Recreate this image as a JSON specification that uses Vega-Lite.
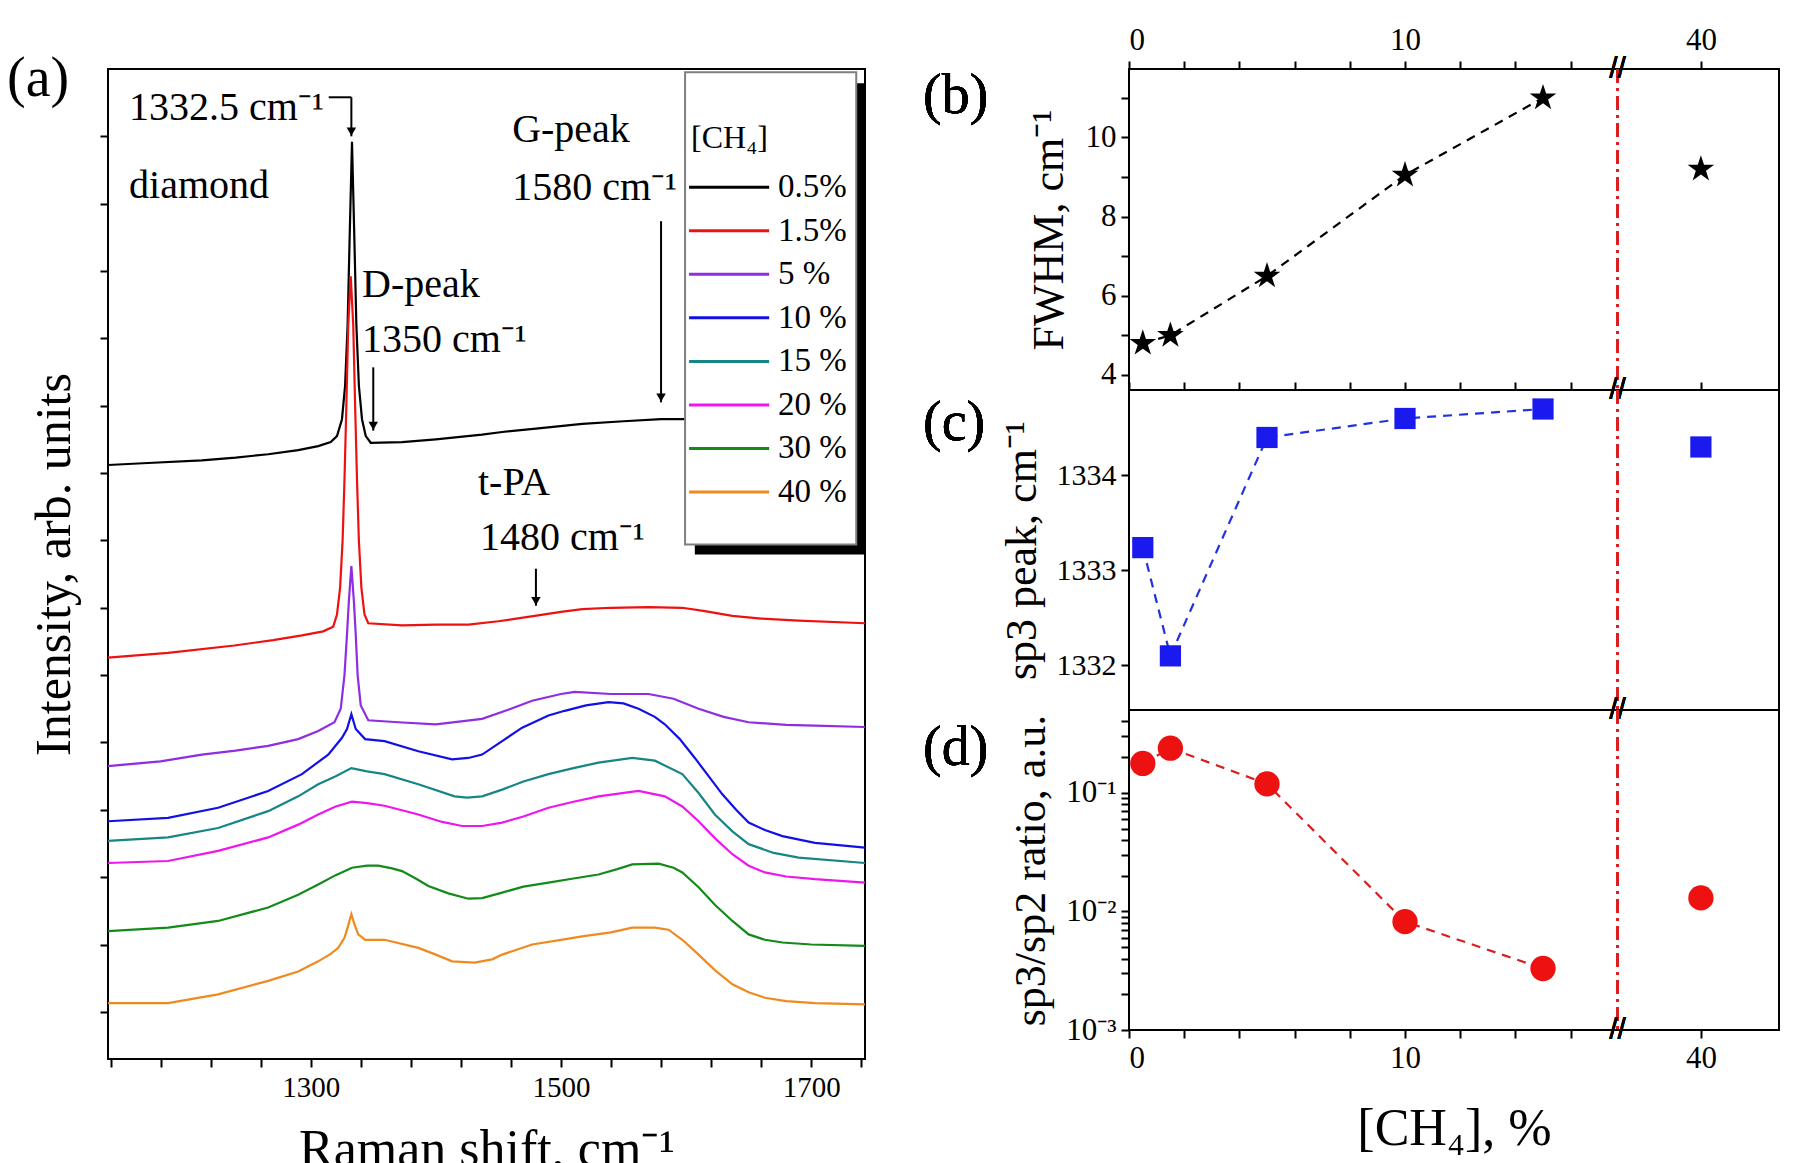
{
  "$schema": "https://vega.github.io/schema/vega-lite/v6.json",
  "padding": {"left": 6, "top": 23, "right": 5, "bottom": 5},
  "background": "white",
  "spacing": 51,
  "config": {
    "font": "Liberation Serif",
    "view": {"stroke": "black", "strokeWidth": 2},
    "axis": {
      "labelFont": "Liberation Serif",
      "titleFont": "Liberation Serif",
      "titleFontWeight": "normal",
      "labelColor": "black",
      "titleColor": "black",
      "tickColor": "black",
      "tickWidth": 2,
      "tickSize": 8,
      "domain": false,
      "grid": false
    },
    "text": {"font": "Liberation Serif", "color": "black"}
  },
  "datasets": {
    "spectra": [
      {"shift": 1138, "intensity": 8.12, "ch4": "0.5%"},
      {"shift": 1170, "intensity": 8.15, "ch4": "0.5%"},
      {"shift": 1213, "intensity": 8.19, "ch4": "0.5%"},
      {"shift": 1240, "intensity": 8.23, "ch4": "0.5%"},
      {"shift": 1266, "intensity": 8.28, "ch4": "0.5%"},
      {"shift": 1290, "intensity": 8.34, "ch4": "0.5%"},
      {"shift": 1306, "intensity": 8.4, "ch4": "0.5%"},
      {"shift": 1316, "intensity": 8.46, "ch4": "0.5%"},
      {"shift": 1321, "intensity": 8.55, "ch4": "0.5%"},
      {"shift": 1325, "intensity": 8.8, "ch4": "0.5%"},
      {"shift": 1327.5, "intensity": 9.3, "ch4": "0.5%"},
      {"shift": 1329.5, "intensity": 10.2, "ch4": "0.5%"},
      {"shift": 1331, "intensity": 11.4, "ch4": "0.5%"},
      {"shift": 1333, "intensity": 12.92, "ch4": "0.5%"},
      {"shift": 1335, "intensity": 11.4, "ch4": "0.5%"},
      {"shift": 1336.5, "intensity": 10.2, "ch4": "0.5%"},
      {"shift": 1338.5, "intensity": 9.3, "ch4": "0.5%"},
      {"shift": 1341, "intensity": 8.8, "ch4": "0.5%"},
      {"shift": 1344, "intensity": 8.55, "ch4": "0.5%"},
      {"shift": 1348, "intensity": 8.45, "ch4": "0.5%"},
      {"shift": 1373, "intensity": 8.46, "ch4": "0.5%"},
      {"shift": 1400, "intensity": 8.5, "ch4": "0.5%"},
      {"shift": 1437, "intensity": 8.57, "ch4": "0.5%"},
      {"shift": 1453, "intensity": 8.61, "ch4": "0.5%"},
      {"shift": 1480, "intensity": 8.66, "ch4": "0.5%"},
      {"shift": 1517, "intensity": 8.73, "ch4": "0.5%"},
      {"shift": 1550, "intensity": 8.77, "ch4": "0.5%"},
      {"shift": 1580, "intensity": 8.8, "ch4": "0.5%"},
      {"shift": 1600, "intensity": 8.8, "ch4": "0.5%"},
      {"shift": 1650, "intensity": 8.78, "ch4": "0.5%"},
      {"shift": 1700, "intensity": 8.76, "ch4": "0.5%"},
      {"shift": 1743, "intensity": 8.74, "ch4": "0.5%"},

      {"shift": 1138, "intensity": 5.26, "ch4": "1.5%"},
      {"shift": 1186, "intensity": 5.33, "ch4": "1.5%"},
      {"shift": 1239, "intensity": 5.44, "ch4": "1.5%"},
      {"shift": 1270, "intensity": 5.52, "ch4": "1.5%"},
      {"shift": 1293, "intensity": 5.59, "ch4": "1.5%"},
      {"shift": 1310, "intensity": 5.65, "ch4": "1.5%"},
      {"shift": 1318, "intensity": 5.72, "ch4": "1.5%"},
      {"shift": 1321, "intensity": 5.9, "ch4": "1.5%"},
      {"shift": 1323.5, "intensity": 6.3, "ch4": "1.5%"},
      {"shift": 1325.5, "intensity": 7.0, "ch4": "1.5%"},
      {"shift": 1327, "intensity": 7.9, "ch4": "1.5%"},
      {"shift": 1328.5, "intensity": 9.0, "ch4": "1.5%"},
      {"shift": 1330, "intensity": 10.2, "ch4": "1.5%"},
      {"shift": 1332, "intensity": 10.92, "ch4": "1.5%"},
      {"shift": 1334, "intensity": 10.2, "ch4": "1.5%"},
      {"shift": 1335.5, "intensity": 9.0, "ch4": "1.5%"},
      {"shift": 1337, "intensity": 7.9, "ch4": "1.5%"},
      {"shift": 1338.5, "intensity": 7.0, "ch4": "1.5%"},
      {"shift": 1340.5, "intensity": 6.3, "ch4": "1.5%"},
      {"shift": 1343, "intensity": 5.9, "ch4": "1.5%"},
      {"shift": 1346, "intensity": 5.77, "ch4": "1.5%"},
      {"shift": 1373, "intensity": 5.74, "ch4": "1.5%"},
      {"shift": 1400, "intensity": 5.75, "ch4": "1.5%"},
      {"shift": 1426, "intensity": 5.75, "ch4": "1.5%"},
      {"shift": 1450, "intensity": 5.8, "ch4": "1.5%"},
      {"shift": 1479, "intensity": 5.88, "ch4": "1.5%"},
      {"shift": 1500, "intensity": 5.94, "ch4": "1.5%"},
      {"shift": 1517, "intensity": 5.98, "ch4": "1.5%"},
      {"shift": 1540, "intensity": 6.0, "ch4": "1.5%"},
      {"shift": 1570, "intensity": 6.01, "ch4": "1.5%"},
      {"shift": 1597, "intensity": 6.0, "ch4": "1.5%"},
      {"shift": 1615, "intensity": 5.95, "ch4": "1.5%"},
      {"shift": 1637, "intensity": 5.88, "ch4": "1.5%"},
      {"shift": 1660, "intensity": 5.84, "ch4": "1.5%"},
      {"shift": 1690, "intensity": 5.81, "ch4": "1.5%"},
      {"shift": 1743, "intensity": 5.77, "ch4": "1.5%"},

      {"shift": 1138, "intensity": 3.65, "ch4": "5 %"},
      {"shift": 1180, "intensity": 3.72, "ch4": "5 %"},
      {"shift": 1213, "intensity": 3.82, "ch4": "5 %"},
      {"shift": 1240, "intensity": 3.88, "ch4": "5 %"},
      {"shift": 1266, "intensity": 3.95, "ch4": "5 %"},
      {"shift": 1290, "intensity": 4.05, "ch4": "5 %"},
      {"shift": 1306, "intensity": 4.17, "ch4": "5 %"},
      {"shift": 1319, "intensity": 4.3, "ch4": "5 %"},
      {"shift": 1324, "intensity": 4.5, "ch4": "5 %"},
      {"shift": 1327, "intensity": 5.0, "ch4": "5 %"},
      {"shift": 1329, "intensity": 5.6, "ch4": "5 %"},
      {"shift": 1330.5, "intensity": 6.1, "ch4": "5 %"},
      {"shift": 1332.5, "intensity": 6.62, "ch4": "5 %"},
      {"shift": 1334.5, "intensity": 6.1, "ch4": "5 %"},
      {"shift": 1336, "intensity": 5.6, "ch4": "5 %"},
      {"shift": 1337.5, "intensity": 5.0, "ch4": "5 %"},
      {"shift": 1340, "intensity": 4.55, "ch4": "5 %"},
      {"shift": 1346, "intensity": 4.33, "ch4": "5 %"},
      {"shift": 1370, "intensity": 4.3, "ch4": "5 %"},
      {"shift": 1400, "intensity": 4.27, "ch4": "5 %"},
      {"shift": 1437, "intensity": 4.35, "ch4": "5 %"},
      {"shift": 1460, "intensity": 4.5, "ch4": "5 %"},
      {"shift": 1477, "intensity": 4.62, "ch4": "5 %"},
      {"shift": 1500, "intensity": 4.72, "ch4": "5 %"},
      {"shift": 1511, "intensity": 4.75, "ch4": "5 %"},
      {"shift": 1540, "intensity": 4.72, "ch4": "5 %"},
      {"shift": 1570, "intensity": 4.72, "ch4": "5 %"},
      {"shift": 1590, "intensity": 4.65, "ch4": "5 %"},
      {"shift": 1610, "intensity": 4.5, "ch4": "5 %"},
      {"shift": 1630, "intensity": 4.38, "ch4": "5 %"},
      {"shift": 1650, "intensity": 4.3, "ch4": "5 %"},
      {"shift": 1680, "intensity": 4.26, "ch4": "5 %"},
      {"shift": 1703, "intensity": 4.25, "ch4": "5 %"},
      {"shift": 1743, "intensity": 4.23, "ch4": "5 %"},

      {"shift": 1138, "intensity": 2.83, "ch4": "10 %"},
      {"shift": 1186, "intensity": 2.88, "ch4": "10 %"},
      {"shift": 1226, "intensity": 3.03, "ch4": "10 %"},
      {"shift": 1266, "intensity": 3.28, "ch4": "10 %"},
      {"shift": 1293, "intensity": 3.53, "ch4": "10 %"},
      {"shift": 1314, "intensity": 3.82, "ch4": "10 %"},
      {"shift": 1325, "intensity": 4.07, "ch4": "10 %"},
      {"shift": 1329, "intensity": 4.2, "ch4": "10 %"},
      {"shift": 1332.5, "intensity": 4.42, "ch4": "10 %"},
      {"shift": 1336, "intensity": 4.2, "ch4": "10 %"},
      {"shift": 1343.5, "intensity": 4.05, "ch4": "10 %"},
      {"shift": 1359, "intensity": 4.02, "ch4": "10 %"},
      {"shift": 1386, "intensity": 3.87, "ch4": "10 %"},
      {"shift": 1413, "intensity": 3.75, "ch4": "10 %"},
      {"shift": 1426, "intensity": 3.77, "ch4": "10 %"},
      {"shift": 1437, "intensity": 3.82, "ch4": "10 %"},
      {"shift": 1453, "intensity": 4.02, "ch4": "10 %"},
      {"shift": 1469, "intensity": 4.22, "ch4": "10 %"},
      {"shift": 1490, "intensity": 4.4, "ch4": "10 %"},
      {"shift": 1503, "intensity": 4.47, "ch4": "10 %"},
      {"shift": 1520, "intensity": 4.55, "ch4": "10 %"},
      {"shift": 1538, "intensity": 4.6, "ch4": "10 %"},
      {"shift": 1550, "intensity": 4.58, "ch4": "10 %"},
      {"shift": 1562, "intensity": 4.5, "ch4": "10 %"},
      {"shift": 1575, "intensity": 4.38, "ch4": "10 %"},
      {"shift": 1583, "intensity": 4.27, "ch4": "10 %"},
      {"shift": 1595, "intensity": 4.05, "ch4": "10 %"},
      {"shift": 1607, "intensity": 3.77, "ch4": "10 %"},
      {"shift": 1618, "intensity": 3.5, "ch4": "10 %"},
      {"shift": 1629, "intensity": 3.23, "ch4": "10 %"},
      {"shift": 1640, "intensity": 3.0, "ch4": "10 %"},
      {"shift": 1650, "intensity": 2.81, "ch4": "10 %"},
      {"shift": 1663, "intensity": 2.7, "ch4": "10 %"},
      {"shift": 1677, "intensity": 2.61, "ch4": "10 %"},
      {"shift": 1703, "intensity": 2.51, "ch4": "10 %"},
      {"shift": 1743, "intensity": 2.44, "ch4": "10 %"},

      {"shift": 1138, "intensity": 2.54, "ch4": "15 %"},
      {"shift": 1186, "intensity": 2.59, "ch4": "15 %"},
      {"shift": 1226, "intensity": 2.73, "ch4": "15 %"},
      {"shift": 1266, "intensity": 2.98, "ch4": "15 %"},
      {"shift": 1290, "intensity": 3.2, "ch4": "15 %"},
      {"shift": 1306, "intensity": 3.38, "ch4": "15 %"},
      {"shift": 1320, "intensity": 3.5, "ch4": "15 %"},
      {"shift": 1332.5, "intensity": 3.62, "ch4": "15 %"},
      {"shift": 1345, "intensity": 3.57, "ch4": "15 %"},
      {"shift": 1359, "intensity": 3.53, "ch4": "15 %"},
      {"shift": 1386, "intensity": 3.38, "ch4": "15 %"},
      {"shift": 1415, "intensity": 3.2, "ch4": "15 %"},
      {"shift": 1425, "intensity": 3.18, "ch4": "15 %"},
      {"shift": 1437, "intensity": 3.2, "ch4": "15 %"},
      {"shift": 1453, "intensity": 3.3, "ch4": "15 %"},
      {"shift": 1470, "intensity": 3.42, "ch4": "15 %"},
      {"shift": 1490, "intensity": 3.53, "ch4": "15 %"},
      {"shift": 1510, "intensity": 3.62, "ch4": "15 %"},
      {"shift": 1530, "intensity": 3.7, "ch4": "15 %"},
      {"shift": 1557, "intensity": 3.77, "ch4": "15 %"},
      {"shift": 1575, "intensity": 3.73, "ch4": "15 %"},
      {"shift": 1597, "intensity": 3.53, "ch4": "15 %"},
      {"shift": 1610, "intensity": 3.25, "ch4": "15 %"},
      {"shift": 1623, "intensity": 2.93, "ch4": "15 %"},
      {"shift": 1637, "intensity": 2.68, "ch4": "15 %"},
      {"shift": 1650, "intensity": 2.49, "ch4": "15 %"},
      {"shift": 1670, "intensity": 2.36, "ch4": "15 %"},
      {"shift": 1690, "intensity": 2.29, "ch4": "15 %"},
      {"shift": 1743, "intensity": 2.21, "ch4": "15 %"},

      {"shift": 1138, "intensity": 2.21, "ch4": "20 %"},
      {"shift": 1186, "intensity": 2.24, "ch4": "20 %"},
      {"shift": 1226, "intensity": 2.39, "ch4": "20 %"},
      {"shift": 1266, "intensity": 2.59, "ch4": "20 %"},
      {"shift": 1290, "intensity": 2.78, "ch4": "20 %"},
      {"shift": 1306, "intensity": 2.93, "ch4": "20 %"},
      {"shift": 1320, "intensity": 3.05, "ch4": "20 %"},
      {"shift": 1333, "intensity": 3.12, "ch4": "20 %"},
      {"shift": 1345, "intensity": 3.1, "ch4": "20 %"},
      {"shift": 1359, "intensity": 3.06, "ch4": "20 %"},
      {"shift": 1386, "intensity": 2.93, "ch4": "20 %"},
      {"shift": 1405, "intensity": 2.82, "ch4": "20 %"},
      {"shift": 1421, "intensity": 2.76, "ch4": "20 %"},
      {"shift": 1437, "intensity": 2.76, "ch4": "20 %"},
      {"shift": 1453, "intensity": 2.81, "ch4": "20 %"},
      {"shift": 1470, "intensity": 2.9, "ch4": "20 %"},
      {"shift": 1490, "intensity": 3.03, "ch4": "20 %"},
      {"shift": 1510, "intensity": 3.12, "ch4": "20 %"},
      {"shift": 1530, "intensity": 3.2, "ch4": "20 %"},
      {"shift": 1562, "intensity": 3.28, "ch4": "20 %"},
      {"shift": 1583, "intensity": 3.2, "ch4": "20 %"},
      {"shift": 1597, "intensity": 3.05, "ch4": "20 %"},
      {"shift": 1610, "intensity": 2.83, "ch4": "20 %"},
      {"shift": 1623, "intensity": 2.58, "ch4": "20 %"},
      {"shift": 1637, "intensity": 2.34, "ch4": "20 %"},
      {"shift": 1650, "intensity": 2.17, "ch4": "20 %"},
      {"shift": 1663, "intensity": 2.07, "ch4": "20 %"},
      {"shift": 1680, "intensity": 2.01, "ch4": "20 %"},
      {"shift": 1703, "intensity": 1.97, "ch4": "20 %"},
      {"shift": 1743, "intensity": 1.92, "ch4": "20 %"},

      {"shift": 1138, "intensity": 1.2, "ch4": "30 %"},
      {"shift": 1186, "intensity": 1.25, "ch4": "30 %"},
      {"shift": 1226, "intensity": 1.35, "ch4": "30 %"},
      {"shift": 1266, "intensity": 1.55, "ch4": "30 %"},
      {"shift": 1290, "intensity": 1.74, "ch4": "30 %"},
      {"shift": 1306, "intensity": 1.89, "ch4": "30 %"},
      {"shift": 1320, "intensity": 2.03, "ch4": "30 %"},
      {"shift": 1333, "intensity": 2.14, "ch4": "30 %"},
      {"shift": 1345, "intensity": 2.17, "ch4": "30 %"},
      {"shift": 1354, "intensity": 2.17, "ch4": "30 %"},
      {"shift": 1365, "intensity": 2.13, "ch4": "30 %"},
      {"shift": 1373, "intensity": 2.09, "ch4": "30 %"},
      {"shift": 1385, "intensity": 1.97, "ch4": "30 %"},
      {"shift": 1394, "intensity": 1.87, "ch4": "30 %"},
      {"shift": 1410, "intensity": 1.76, "ch4": "30 %"},
      {"shift": 1426, "intensity": 1.68, "ch4": "30 %"},
      {"shift": 1437, "intensity": 1.69, "ch4": "30 %"},
      {"shift": 1453, "intensity": 1.77, "ch4": "30 %"},
      {"shift": 1470, "intensity": 1.86, "ch4": "30 %"},
      {"shift": 1490, "intensity": 1.92, "ch4": "30 %"},
      {"shift": 1510, "intensity": 1.98, "ch4": "30 %"},
      {"shift": 1530, "intensity": 2.04, "ch4": "30 %"},
      {"shift": 1545, "intensity": 2.12, "ch4": "30 %"},
      {"shift": 1557, "intensity": 2.19, "ch4": "30 %"},
      {"shift": 1578, "intensity": 2.2, "ch4": "30 %"},
      {"shift": 1590, "intensity": 2.14, "ch4": "30 %"},
      {"shift": 1597, "intensity": 2.07, "ch4": "30 %"},
      {"shift": 1610, "intensity": 1.85, "ch4": "30 %"},
      {"shift": 1623, "intensity": 1.59, "ch4": "30 %"},
      {"shift": 1637, "intensity": 1.35, "ch4": "30 %"},
      {"shift": 1650, "intensity": 1.15, "ch4": "30 %"},
      {"shift": 1663, "intensity": 1.07, "ch4": "30 %"},
      {"shift": 1677, "intensity": 1.03, "ch4": "30 %"},
      {"shift": 1700, "intensity": 1.0, "ch4": "30 %"},
      {"shift": 1743, "intensity": 0.98, "ch4": "30 %"},

      {"shift": 1138, "intensity": 0.13, "ch4": "40 %"},
      {"shift": 1186, "intensity": 0.13, "ch4": "40 %"},
      {"shift": 1226, "intensity": 0.26, "ch4": "40 %"},
      {"shift": 1266, "intensity": 0.46, "ch4": "40 %"},
      {"shift": 1290, "intensity": 0.6, "ch4": "40 %"},
      {"shift": 1306, "intensity": 0.75, "ch4": "40 %"},
      {"shift": 1316, "intensity": 0.86, "ch4": "40 %"},
      {"shift": 1322, "intensity": 0.95, "ch4": "40 %"},
      {"shift": 1327, "intensity": 1.1, "ch4": "40 %"},
      {"shift": 1330, "intensity": 1.28, "ch4": "40 %"},
      {"shift": 1332.5, "intensity": 1.45, "ch4": "40 %"},
      {"shift": 1335, "intensity": 1.3, "ch4": "40 %"},
      {"shift": 1338, "intensity": 1.15, "ch4": "40 %"},
      {"shift": 1343.5, "intensity": 1.07, "ch4": "40 %"},
      {"shift": 1359, "intensity": 1.07, "ch4": "40 %"},
      {"shift": 1386, "intensity": 0.95, "ch4": "40 %"},
      {"shift": 1400, "intensity": 0.85, "ch4": "40 %"},
      {"shift": 1413, "intensity": 0.75, "ch4": "40 %"},
      {"shift": 1431, "intensity": 0.73, "ch4": "40 %"},
      {"shift": 1445, "intensity": 0.78, "ch4": "40 %"},
      {"shift": 1453, "intensity": 0.85, "ch4": "40 %"},
      {"shift": 1477, "intensity": 1.0, "ch4": "40 %"},
      {"shift": 1500, "intensity": 1.07, "ch4": "40 %"},
      {"shift": 1517, "intensity": 1.12, "ch4": "40 %"},
      {"shift": 1540, "intensity": 1.18, "ch4": "40 %"},
      {"shift": 1557, "intensity": 1.25, "ch4": "40 %"},
      {"shift": 1575, "intensity": 1.25, "ch4": "40 %"},
      {"shift": 1586, "intensity": 1.22, "ch4": "40 %"},
      {"shift": 1597, "intensity": 1.07, "ch4": "40 %"},
      {"shift": 1610, "intensity": 0.85, "ch4": "40 %"},
      {"shift": 1623, "intensity": 0.62, "ch4": "40 %"},
      {"shift": 1637, "intensity": 0.41, "ch4": "40 %"},
      {"shift": 1650, "intensity": 0.29, "ch4": "40 %"},
      {"shift": 1663, "intensity": 0.21, "ch4": "40 %"},
      {"shift": 1680, "intensity": 0.16, "ch4": "40 %"},
      {"shift": 1703, "intensity": 0.13, "ch4": "40 %"},
      {"shift": 1743, "intensity": 0.11, "ch4": "40 %"}
    ],
    "trend": [
      {"ch4": 0.5, "fwhm": 4.8, "sp3": 1333.24, "ratio": 0.177},
      {"ch4": 1.5, "fwhm": 5.0, "sp3": 1332.1, "ratio": 0.238},
      {"ch4": 5, "fwhm": 6.5, "sp3": 1334.4, "ratio": 0.119},
      {"ch4": 10, "fwhm": 9.05, "sp3": 1334.6, "ratio": 0.0082},
      {"ch4": 15, "fwhm": 11.0, "sp3": 1334.7, "ratio": 0.0033},
      {"ch4": 40, "fwhm": 9.2, "sp3": 1334.3, "ratio": 0.013}
    ]
  },
  "hconcat": [
    {
      "width": 757,
      "height": 990,
      "layer": [
        {
          "data": {"name": "spectra"},
          "mark": {"type": "line", "strokeWidth": 2.2},
          "encoding": {
            "x": {
              "field": "shift", "type": "quantitative",
              "scale": {"domain": [1138, 1743], "nice": false, "zero": false},
              "axis": {
                "values": [1140, 1160, 1180, 1200, 1220, 1240, 1260, 1280, 1300, 1320, 1340, 1360, 1380, 1400, 1420, 1440, 1460, 1480, 1500, 1520, 1540, 1560, 1580, 1600, 1620, 1640, 1660, 1680, 1700, 1720, 1740],
                "format": "d",
                "labelExpr": "datum.value % 100 === 0 ? datum.label : ''",
                "labelFontSize": 29,
                "labelPadding": 6,
                "title": "Raman shift, cm⁻¹",
                "titleFontSize": 52,
                "titlePadding": 22
              }
            },
            "y": {
              "field": "intensity", "type": "quantitative",
              "scale": {"domain": [-0.7, 14.0], "nice": false, "zero": false},
              "axis": {
                "values": [0, 1, 2, 3, 4, 5, 6, 7, 8, 9, 10, 11, 12, 13],
                "labels": false,
                "title": "Intensity, arb. units",
                "titleFontSize": 50,
                "titlePadding": 20
              }
            },
            "color": {
              "field": "ch4", "type": "nominal",
              "scale": {
                "domain": ["0.5%", "1.5%", "5 %", "10 %", "15 %", "20 %", "30 %", "40 %"],
                "range": ["#000000", "#ee1111", "#8e2de2", "#1111e6", "#168585", "#ee16ee", "#138a1a", "#f0891e"]
              },
              "legend": null
            }
          }
        },
        {
          "data": {"values": [{}]},
          "mark": {"type": "rect", "color": "black"},
          "encoding": {
            "x": {"datum": 1607, "type": "quantitative"},
            "x2": {"datum": 1743},
            "y": {"datum": 13.79, "type": "quantitative"},
            "y2": {"datum": 6.79}
          }
        },
        {
          "data": {"values": [{}]},
          "mark": {"type": "rect", "fill": "white", "stroke": "#7f7f7f", "strokeWidth": 2},
          "encoding": {
            "x": {"datum": 1599.2, "type": "quantitative"},
            "x2": {"datum": 1736},
            "y": {"datum": 13.95, "type": "quantitative"},
            "y2": {"datum": 6.94}
          }
        },
        {
          "data": {"values": [{}]},
          "mark": {"type": "text", "text": "[CH₄]", "align": "left", "baseline": "middle", "fontSize": 32},
          "encoding": {"x": {"datum": 1604, "type": "quantitative"}, "y": {"datum": 12.97, "type": "quantitative"}}
        },
        {"data": {"values": [{}]}, "mark": {"type": "rule", "color": "#000000", "strokeWidth": 3}, "encoding": {"x": {"datum": 1602.4, "type": "quantitative"}, "x2": {"datum": 1666.4}, "y": {"datum": 12.244, "type": "quantitative"}}},
        {"data": {"values": [{}]}, "mark": {"type": "rule", "color": "#ee1111", "strokeWidth": 3}, "encoding": {"x": {"datum": 1602.4, "type": "quantitative"}, "x2": {"datum": 1666.4}, "y": {"datum": 11.597, "type": "quantitative"}}},
        {"data": {"values": [{}]}, "mark": {"type": "rule", "color": "#8e2de2", "strokeWidth": 3}, "encoding": {"x": {"datum": 1602.4, "type": "quantitative"}, "x2": {"datum": 1666.4}, "y": {"datum": 10.951, "type": "quantitative"}}},
        {"data": {"values": [{}]}, "mark": {"type": "rule", "color": "#1111e6", "strokeWidth": 3}, "encoding": {"x": {"datum": 1602.4, "type": "quantitative"}, "x2": {"datum": 1666.4}, "y": {"datum": 10.305, "type": "quantitative"}}},
        {"data": {"values": [{}]}, "mark": {"type": "rule", "color": "#168585", "strokeWidth": 3}, "encoding": {"x": {"datum": 1602.4, "type": "quantitative"}, "x2": {"datum": 1666.4}, "y": {"datum": 9.658, "type": "quantitative"}}},
        {"data": {"values": [{}]}, "mark": {"type": "rule", "color": "#ee16ee", "strokeWidth": 3}, "encoding": {"x": {"datum": 1602.4, "type": "quantitative"}, "x2": {"datum": 1666.4}, "y": {"datum": 9.012, "type": "quantitative"}}},
        {"data": {"values": [{}]}, "mark": {"type": "rule", "color": "#138a1a", "strokeWidth": 3}, "encoding": {"x": {"datum": 1602.4, "type": "quantitative"}, "x2": {"datum": 1666.4}, "y": {"datum": 8.366, "type": "quantitative"}}},
        {"data": {"values": [{}]}, "mark": {"type": "rule", "color": "#f0891e", "strokeWidth": 3}, "encoding": {"x": {"datum": 1602.4, "type": "quantitative"}, "x2": {"datum": 1666.4}, "y": {"datum": 7.719, "type": "quantitative"}}},
        {"data": {"values": [{}]}, "mark": {"type": "text", "text": "0.5%", "align": "left", "baseline": "middle", "fontSize": 33}, "encoding": {"x": {"datum": 1673.5, "type": "quantitative"}, "y": {"datum": 12.244, "type": "quantitative"}}},
        {"data": {"values": [{}]}, "mark": {"type": "text", "text": "1.5%", "align": "left", "baseline": "middle", "fontSize": 33}, "encoding": {"x": {"datum": 1673.5, "type": "quantitative"}, "y": {"datum": 11.597, "type": "quantitative"}}},
        {"data": {"values": [{}]}, "mark": {"type": "text", "text": "5 %", "align": "left", "baseline": "middle", "fontSize": 33}, "encoding": {"x": {"datum": 1673.5, "type": "quantitative"}, "y": {"datum": 10.951, "type": "quantitative"}}},
        {"data": {"values": [{}]}, "mark": {"type": "text", "text": "10 %", "align": "left", "baseline": "middle", "fontSize": 33}, "encoding": {"x": {"datum": 1673.5, "type": "quantitative"}, "y": {"datum": 10.305, "type": "quantitative"}}},
        {"data": {"values": [{}]}, "mark": {"type": "text", "text": "15 %", "align": "left", "baseline": "middle", "fontSize": 33}, "encoding": {"x": {"datum": 1673.5, "type": "quantitative"}, "y": {"datum": 9.658, "type": "quantitative"}}},
        {"data": {"values": [{}]}, "mark": {"type": "text", "text": "20 %", "align": "left", "baseline": "middle", "fontSize": 33}, "encoding": {"x": {"datum": 1673.5, "type": "quantitative"}, "y": {"datum": 9.012, "type": "quantitative"}}},
        {"data": {"values": [{}]}, "mark": {"type": "text", "text": "30 %", "align": "left", "baseline": "middle", "fontSize": 33}, "encoding": {"x": {"datum": 1673.5, "type": "quantitative"}, "y": {"datum": 8.366, "type": "quantitative"}}},
        {"data": {"values": [{}]}, "mark": {"type": "text", "text": "40 %", "align": "left", "baseline": "middle", "fontSize": 33}, "encoding": {"x": {"datum": 1673.5, "type": "quantitative"}, "y": {"datum": 7.719, "type": "quantitative"}}},
        {
          "data": {"values": [{}]},
          "mark": {"type": "text", "text": "(a)", "align": "left", "baseline": "middle", "fontSize": 56},
          "encoding": {"x": {"datum": 1057.3, "type": "quantitative"}, "y": {"datum": 13.85, "type": "quantitative"}}
        },
        {
          "data": {"values": [{}]},
          "mark": {"type": "text", "text": "1332.5 cm⁻¹", "align": "left", "baseline": "middle", "fontSize": 40},
          "encoding": {"x": {"datum": 1154.8, "type": "quantitative"}, "y": {"datum": 13.42, "type": "quantitative"}}
        },
        {
          "data": {"values": [{}]},
          "mark": {"type": "text", "text": "diamond", "align": "left", "baseline": "middle", "fontSize": 40},
          "encoding": {"x": {"datum": 1154.8, "type": "quantitative"}, "y": {"datum": 12.26, "type": "quantitative"}}
        },
        {
          "data": {"values": [{}]},
          "mark": {"type": "text", "text": "G-peak", "align": "left", "baseline": "middle", "fontSize": 40},
          "encoding": {"x": {"datum": 1461, "type": "quantitative"}, "y": {"datum": 13.09, "type": "quantitative"}}
        },
        {
          "data": {"values": [{}]},
          "mark": {"type": "text", "text": "1580 cm⁻¹", "align": "left", "baseline": "middle", "fontSize": 40},
          "encoding": {"x": {"datum": 1461, "type": "quantitative"}, "y": {"datum": 12.24, "type": "quantitative"}}
        },
        {
          "data": {"values": [{}]},
          "mark": {"type": "text", "text": "D-peak", "align": "left", "baseline": "middle", "fontSize": 40},
          "encoding": {"x": {"datum": 1341, "type": "quantitative"}, "y": {"datum": 10.79, "type": "quantitative"}}
        },
        {
          "data": {"values": [{}]},
          "mark": {"type": "text", "text": "1350 cm⁻¹", "align": "left", "baseline": "middle", "fontSize": 40},
          "encoding": {"x": {"datum": 1341, "type": "quantitative"}, "y": {"datum": 9.98, "type": "quantitative"}}
        },
        {
          "data": {"values": [{}]},
          "mark": {"type": "text", "text": "t-PA", "align": "left", "baseline": "middle", "fontSize": 40},
          "encoding": {"x": {"datum": 1433.7, "type": "quantitative"}, "y": {"datum": 7.86, "type": "quantitative"}}
        },
        {
          "data": {"values": [{}]},
          "mark": {"type": "text", "text": "1480 cm⁻¹", "align": "left", "baseline": "middle", "fontSize": 40},
          "encoding": {"x": {"datum": 1435.3, "type": "quantitative"}, "y": {"datum": 7.04, "type": "quantitative"}}
        },
        {
          "data": {"values": [{}]},
          "mark": {"type": "rule", "color": "black", "strokeWidth": 2},
          "encoding": {"x": {"datum": 1314.4, "type": "quantitative"}, "x2": {"datum": 1332.5}, "y": {"datum": 13.58, "type": "quantitative"}}
        },
        {
          "data": {"values": [{}]},
          "mark": {"type": "rule", "color": "black", "strokeWidth": 2},
          "encoding": {"x": {"datum": 1332.5, "type": "quantitative"}, "y": {"datum": 13.58, "type": "quantitative"}, "y2": {"datum": 13.0}}
        },
        {
          "data": {"values": [{}]},
          "mark": {"type": "rule", "color": "black", "strokeWidth": 2},
          "encoding": {"x": {"datum": 1580, "type": "quantitative"}, "y": {"datum": 11.74, "type": "quantitative"}, "y2": {"datum": 9.05}}
        },
        {
          "data": {"values": [{}]},
          "mark": {"type": "rule", "color": "black", "strokeWidth": 2},
          "encoding": {"x": {"datum": 1350, "type": "quantitative"}, "y": {"datum": 9.57, "type": "quantitative"}, "y2": {"datum": 8.63}}
        },
        {
          "data": {"values": [{}]},
          "mark": {"type": "rule", "color": "black", "strokeWidth": 2},
          "encoding": {"x": {"datum": 1480, "type": "quantitative"}, "y": {"datum": 6.58, "type": "quantitative"}, "y2": {"datum": 6.03}}
        },
        {
          "data": {"values": [{}]},
          "mark": {"type": "point", "shape": "triangle-down", "filled": true, "color": "black", "opacity": 1, "size": 90},
          "encoding": {"x": {"datum": 1332.5, "type": "quantitative"}, "y": {"datum": 13.07, "type": "quantitative"}}
        },
        {
          "data": {"values": [{}]},
          "mark": {"type": "point", "shape": "triangle-down", "filled": true, "color": "black", "opacity": 1, "size": 90},
          "encoding": {"x": {"datum": 1580, "type": "quantitative"}, "y": {"datum": 9.12, "type": "quantitative"}}
        },
        {
          "data": {"values": [{}]},
          "mark": {"type": "point", "shape": "triangle-down", "filled": true, "color": "black", "opacity": 1, "size": 90},
          "encoding": {"x": {"datum": 1350, "type": "quantitative"}, "y": {"datum": 8.7, "type": "quantitative"}}
        },
        {
          "data": {"values": [{}]},
          "mark": {"type": "point", "shape": "triangle-down", "filled": true, "color": "black", "opacity": 1, "size": 90},
          "encoding": {"x": {"datum": 1480, "type": "quantitative"}, "y": {"datum": 6.1, "type": "quantitative"}}
        }
      ]
    },
    {
      "vconcat": [
        {
          "width": 650,
          "height": 321,
          "data": {"name": "trend"},
          "transform": [{"calculate": "datum.ch4 > 17.7 ? datum.ch4 - 19.28 : datum.ch4", "as": "pos"}],
          "layer": [
            {
              "transform": [{"filter": "datum.ch4 < 20"}],
              "mark": {"type": "line", "color": "black", "strokeDash": [9, 7], "strokeWidth": 2.2},
              "encoding": {
                "x": {
                  "field": "pos", "type": "quantitative",
                  "scale": {"domain": [0, 23.55], "nice": false, "zero": false},
                  "axis": {
                    "orient": "top",
                    "values": [0, 1, 2, 3, 4, 5, 6, 7, 8, 9, 10, 11, 12, 13, 14, 15, 16, 17, 20.72],
                    "labelExpr": "datum.value > 20 ? '40' : datum.value % 5 === 0 ? datum.label : ''",
                    "labelFontSize": 31,
                    "labelPadding": 5,
                    "title": null
                  }
                },
                "y": {
                  "field": "fwhm", "type": "quantitative",
                  "scale": {"domain": [3.62, 11.73], "nice": false, "zero": false},
                  "axis": {
                    "orient": "left",
                    "values": [4, 5, 6, 7, 8, 9, 10, 11],
                    "labelExpr": "datum.value % 2 === 0 ? datum.label : ''",
                    "labelFontSize": 31,
                    "labelPadding": 5,
                    "title": "FWHM, cm⁻¹",
                    "titleFontSize": 44,
                    "titlePadding": 14
                  }
                }
              }
            },
            {
              "mark": {"type": "point", "shape": "M0,-1L0.2245,-0.309L0.951,-0.309L0.363,0.118L0.588,0.809L0,0.382L-0.588,0.809L-0.363,0.118L-0.951,-0.309L-0.2245,-0.309Z", "filled": true, "color": "black", "opacity": 1, "size": 784},
              "encoding": {
                "x": {"field": "pos", "type": "quantitative"},
                "y": {"field": "fwhm", "type": "quantitative"}
              }
            },
            {
              "mark": {"type": "rule", "color": "#d81e1e", "strokeWidth": 2.2, "strokeDash": [14, 5, 3, 5]},
              "encoding": {"x": {"datum": 17.7, "type": "quantitative"}}
            },
            {
              "mark": {"type": "text", "text": "//", "font": "Liberation Sans", "fontSize": 30},
              "encoding": {"x": {"datum": 17.7, "type": "quantitative"}, "y": {"datum": 11.73, "type": "quantitative"}}
            },
            {
              "mark": {"type": "text", "text": "//", "font": "Liberation Sans", "fontSize": 30},
              "encoding": {"x": {"datum": 17.7, "type": "quantitative"}, "y": {"datum": 3.62, "type": "quantitative"}}
            },
            {
              "mark": {"type": "text", "text": "(b)", "align": "left", "baseline": "middle", "fontSize": 56},
              "encoding": {"x": {"datum": -7.46, "type": "quantitative"}, "y": {"datum": 11.05, "type": "quantitative"}}
            }
          ]
        },
        {
          "width": 650,
          "height": 320,
          "data": {"name": "trend"},
          "transform": [{"calculate": "datum.ch4 > 17.7 ? datum.ch4 - 19.28 : datum.ch4", "as": "pos"}],
          "layer": [
            {
              "transform": [{"filter": "datum.ch4 < 20"}],
              "mark": {"type": "line", "color": "#2233dd", "strokeDash": [9, 7], "strokeWidth": 2.2},
              "encoding": {
                "x": {
                  "field": "pos", "type": "quantitative",
                  "scale": {"domain": [0, 23.55], "nice": false, "zero": false},
                  "axis": {
                    "orient": "top",
                    "values": [0, 1, 2, 3, 4, 5, 6, 7, 8, 9, 10, 11, 12, 13, 14, 15, 16, 17, 20.72],
                    "labels": false,
                    "title": null
                  }
                },
                "y": {
                  "field": "sp3", "type": "quantitative",
                  "scale": {"domain": [1331.53, 1334.9], "nice": false, "zero": false},
                  "axis": {
                    "orient": "left",
                    "values": [1331.5, 1332, 1332.5, 1333, 1333.5, 1334, 1334.5],
                    "format": "d",
                    "labelExpr": "datum.value % 1 === 0 ? datum.label : ''",
                    "labelFontSize": 30,
                    "labelPadding": 5,
                    "title": "sp3 peak, cm⁻¹",
                    "titleFontSize": 44,
                    "titlePadding": 12
                  }
                }
              }
            },
            {
              "mark": {"type": "point", "shape": "square", "filled": true, "color": "#1a1aee", "opacity": 1, "size": 450},
              "encoding": {
                "x": {"field": "pos", "type": "quantitative"},
                "y": {"field": "sp3", "type": "quantitative"}
              }
            },
            {
              "mark": {"type": "rule", "color": "#d81e1e", "strokeWidth": 2.2, "strokeDash": [14, 5, 3, 5]},
              "encoding": {"x": {"datum": 17.7, "type": "quantitative"}}
            },
            {
              "mark": {"type": "text", "text": "//", "font": "Liberation Sans", "fontSize": 30},
              "encoding": {"x": {"datum": 17.7, "type": "quantitative"}, "y": {"datum": 1331.53, "type": "quantitative"}}
            },
            {
              "mark": {"type": "text", "text": "(c)", "align": "left", "baseline": "middle", "fontSize": 56},
              "encoding": {"x": {"datum": -7.46, "type": "quantitative"}, "y": {"datum": 1334.55, "type": "quantitative"}}
            }
          ]
        },
        {
          "width": 650,
          "height": 320,
          "data": {"name": "trend"},
          "transform": [{"calculate": "datum.ch4 > 17.7 ? datum.ch4 - 19.28 : datum.ch4", "as": "pos"}],
          "layer": [
            {
              "transform": [{"filter": "datum.ch4 < 20"}],
              "mark": {"type": "line", "color": "#d42020", "strokeDash": [9, 7], "strokeWidth": 2.2},
              "encoding": {
                "x": {
                  "field": "pos", "type": "quantitative",
                  "scale": {"domain": [0, 23.55], "nice": false, "zero": false},
                  "axis": {
                    "orient": "bottom",
                    "values": [0, 1, 2, 3, 4, 5, 6, 7, 8, 9, 10, 11, 12, 13, 14, 15, 16, 17, 20.72],
                    "labelExpr": "datum.value > 20 ? '40' : datum.value % 5 === 0 ? datum.label : ''",
                    "labelFontSize": 31,
                    "labelPadding": 5,
                    "title": "[CH₄], %",
                    "titleFontSize": 52,
                    "titlePadding": 30
                  }
                },
                "y": {
                  "field": "ratio", "type": "quantitative",
                  "scale": {"type": "log", "domain": [0.001, 0.5], "nice": false},
                  "axis": {
                    "orient": "left",
                    "values": [0.001, 0.002, 0.003, 0.004, 0.005, 0.006, 0.007, 0.008, 0.009, 0.01, 0.02, 0.03, 0.04, 0.05, 0.06, 0.07, 0.08, 0.09, 0.1, 0.2, 0.3, 0.4],
                    "labelExpr": "datum.value === 0.1 ? '10⁻¹' : datum.value === 0.01 ? '10⁻²' : datum.value === 0.001 ? '10⁻³' : ''",
                    "labelFontSize": 31,
                    "labelPadding": 5,
                    "title": "sp3/sp2 ratio, a.u.",
                    "titleFontSize": 44,
                    "titlePadding": 12
                  }
                }
              }
            },
            {
              "mark": {"type": "point", "shape": "circle", "filled": true, "color": "#ee1111", "opacity": 1, "size": 640},
              "encoding": {
                "x": {"field": "pos", "type": "quantitative"},
                "y": {"field": "ratio", "type": "quantitative"}
              }
            },
            {
              "mark": {"type": "rule", "color": "#d81e1e", "strokeWidth": 2.2, "strokeDash": [14, 5, 3, 5]},
              "encoding": {"x": {"datum": 17.7, "type": "quantitative"}}
            },
            {
              "mark": {"type": "text", "text": "//", "font": "Liberation Sans", "fontSize": 30},
              "encoding": {"x": {"datum": 17.7, "type": "quantitative"}, "y": {"datum": 0.001, "type": "quantitative"}}
            },
            {
              "mark": {"type": "text", "text": "(d)", "align": "left", "baseline": "middle", "fontSize": 56},
              "encoding": {"x": {"datum": -7.46, "type": "quantitative"}, "y": {"datum": 0.239, "type": "quantitative"}}
            }
          ]
        }
      ],
      "spacing": 0,
      "bounds": "flush"
    }
  ]
}
